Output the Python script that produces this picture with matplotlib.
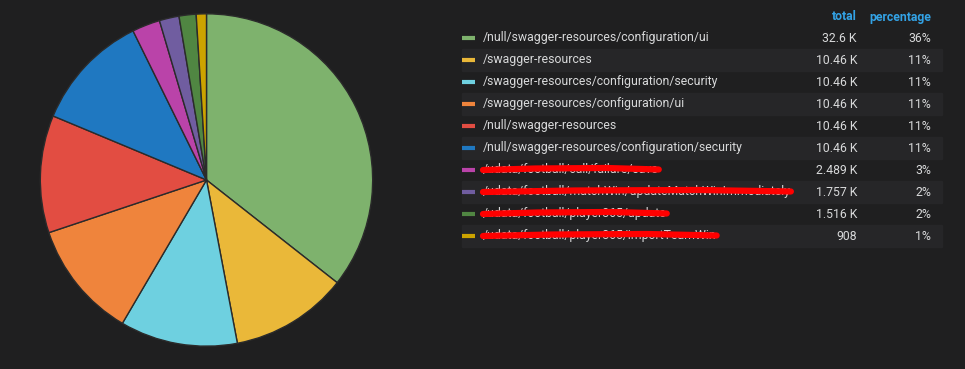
import matplotlib.pyplot as plt

# Data
labels = [
    '/null/swagger-resources/configuration/ui',
    '/swagger-resources',
    '/swagger-resources/configuration/security',
    '/swagger-resources/configuration/ui',
    '/null/swagger-resources',
    '/null/swagger-resources/configuration/security',
    '/udata/football/call/failure/save',
    '/udata/football/matchWin/updateMatchWinImmediately',
    '/udata/football/player365/update',
    '/udata/football/player365/importTeamWin',
]
totals = [32600, 10460, 10460, 10460, 10460, 10460, 2489, 1757, 1516, 908]
total_labels = ['32.6 K', '10.46 K', '10.46 K', '10.46 K', '10.46 K', '10.46 K',
                '2.489 K', '1.757 K', '1.516 K', '908']
colors = ['#7EB26D', '#EAB839', '#6ED0E0', '#EF843C', '#E24D42',
          '#1F78C1', '#BA43A9', '#705DA0', '#508642', '#CCA300']
redacted = [False] * 6 + [True] * 4

bg = '#1f1f20'
stripe = '#262628'
txt = '#d8d9da'
blue = '#33a2e5'
plt.rcParams['font.family'] = ['Roboto', 'DejaVu Sans']

W, H = 965, 369
fig = plt.figure(figsize=(W / 100, H / 100), dpi=100, facecolor=bg)

# Table axes in pixel coordinates
ax = fig.add_axes([0, 0, 1, 1])
ax.set_xlim(0, W)
ax.set_ylim(H, 0)
ax.axis('off')

# Pie axes
cx, cy, r = 206.5, 180, 167
pax = fig.add_axes([(cx - r) / W, (H - cy - r) / H, 2 * r / W, 2 * r / H])
pax.pie(totals, colors=colors, startangle=90, counterclock=False,
        wedgeprops=dict(edgecolor='#2b2b2b', linewidth=1.0))
pax.set_xlim(-1.005, 1.005)
pax.set_ylim(-1.005, 1.005)

total = sum(totals)
row0, rh = 38, 22
fs = 8.8
ax.text(857, 17, 'total', color=blue, fontsize=fs, fontweight='bold', ha='right', va='center')
ax.text(931, 17, 'percentage', color=blue, fontsize=fs, fontweight='bold', ha='right', va='center')

name_texts = []
for i, (lab, v, tl, c) in enumerate(zip(labels, totals, total_labels, colors)):
    y = row0 + i * rh
    if i % 2 == 1:
        ax.add_patch(plt.Rectangle((462, y - rh / 2), 480, rh, color=stripe, zorder=0))
    ax.plot([462, 475], [y, y], color=c, lw=3, solid_capstyle='butt')
    t = ax.text(483, y, lab, color=txt, fontsize=fs, va='center', ha='left')
    name_texts.append(t)
    ax.text(857, y, tl, color=txt, fontsize=fs, va='center', ha='right')
    ax.text(931, y, f'{round(100 * v / total)}%', color=txt, fontsize=fs, va='center', ha='right')

# red redaction strokes over hidden names (drawn on top of the text)
fig.canvas.draw()
for t, red in zip(name_texts, redacted):
    if not red:
        continue
    x0 = 483
    x1 = x0 + t.get_window_extent().width
    ym = t.get_position()[1] - 1
    ax.plot([x0, x0 + (x1 - x0) * 0.3, x0 + (x1 - x0) * 0.7, x1],
            [ym + 1, ym - 0.5, ym - 1, ym + 0.5],
            color='#ff0000', lw=4.5, solid_capstyle='round', zorder=5)

fig.savefig('out.png', facecolor=bg)
